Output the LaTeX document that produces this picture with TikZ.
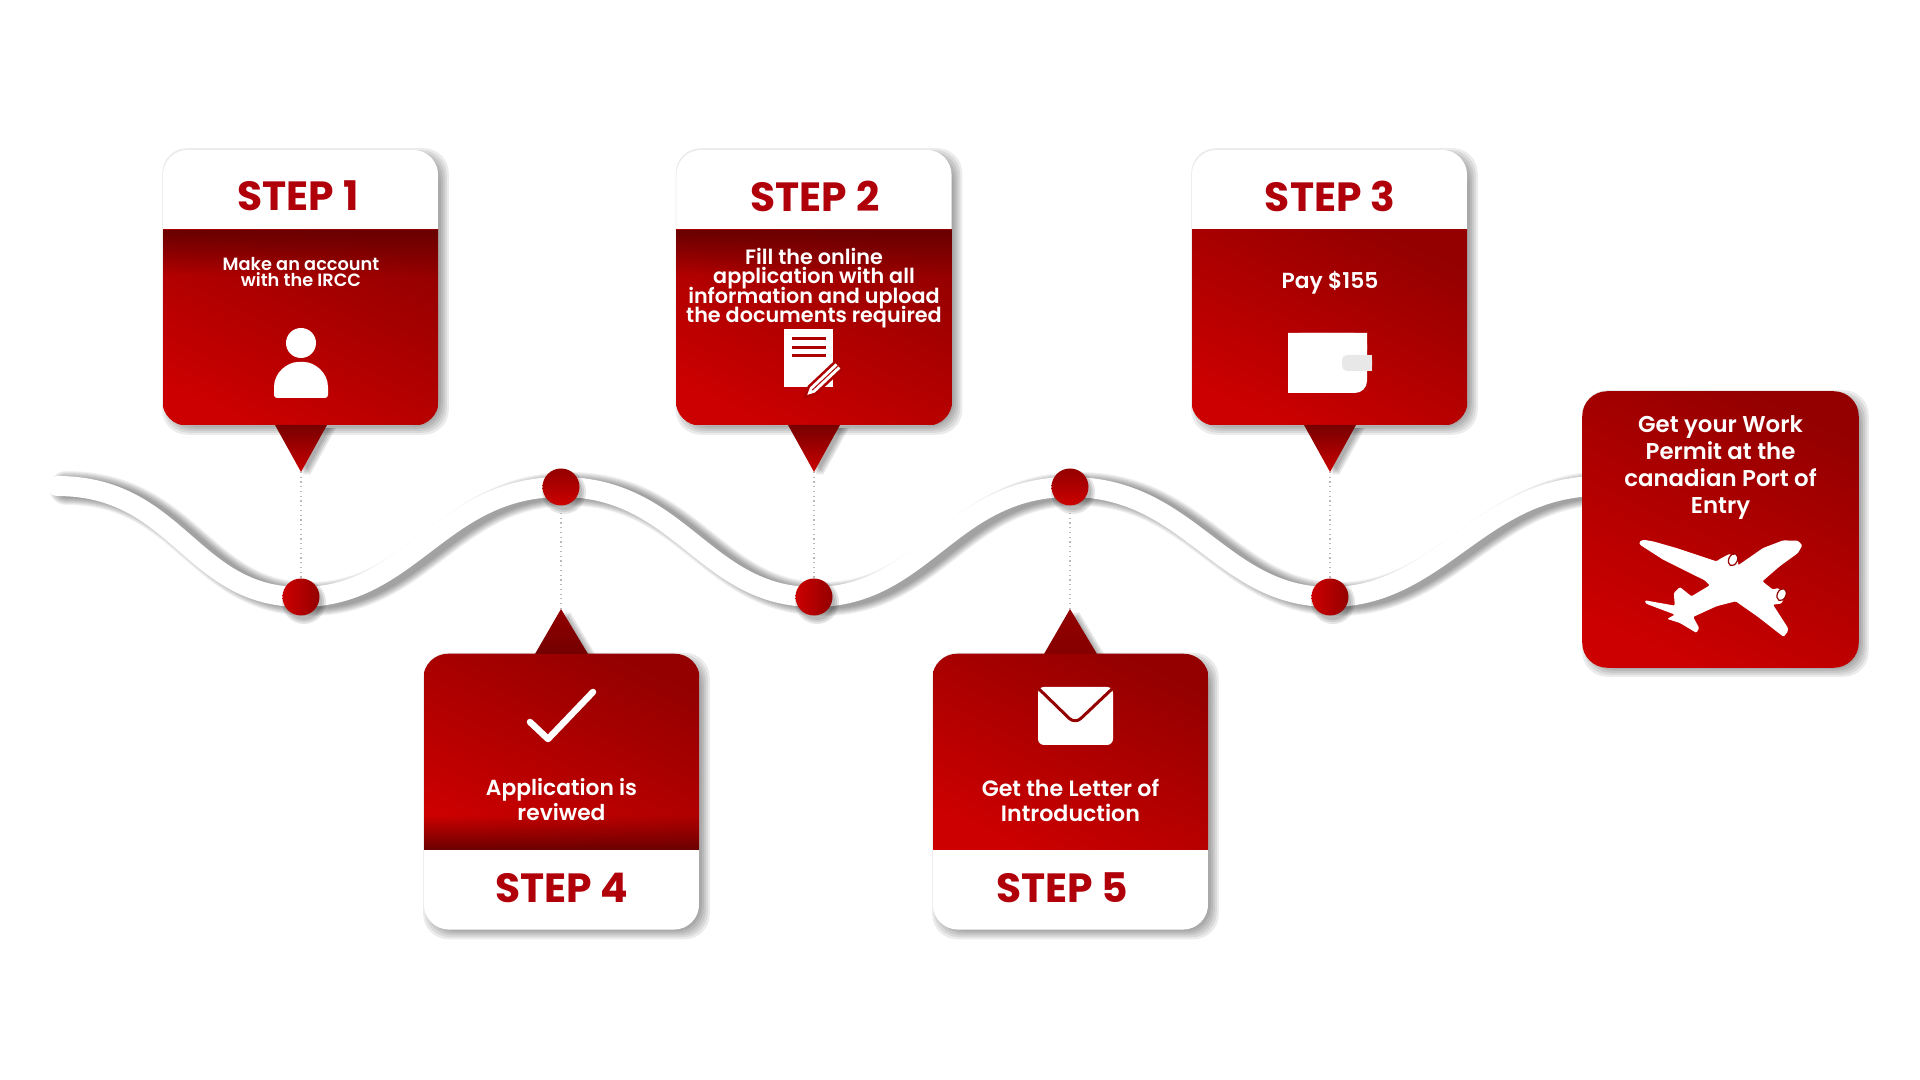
\documentclass[tikz,border=0pt]{standalone}
\usepackage{fontspec}
\setmainfont{Poppins}
\newfontfamily\medfont{Poppins SemiBold}
\usetikzlibrary{backgrounds,fadings}

\definecolor{brightred}{HTML}{CC0000}
\definecolor{darkred}{HTML}{940000}
\definecolor{deepred}{HTML}{6A0000}
\definecolor{steptext}{HTML}{B0000A}

\tikzfading[name=fadebelow, top color=transparent!0, bottom color=transparent!100]
\tikzfading[name=fadeabove, top color=transparent!100, bottom color=transparent!0]

\tikzset{
  card/.style={rectangle, fill=white, rounded corners=0.25cm, inner sep=0pt,
    minimum width=2.75cm, minimum height=2.75cm},
  dot/.style={circle, inner sep=0pt, minimum size=0.37cm},
  stephead/.style={font=\fontsize{11.6}{12}\selectfont\bfseries, text=steptext, inner sep=0pt},
  bodytext/.style n args={2}{font={\medfont\fontsize{#1}{#2}\selectfont\lineskiplimit=-20pt}, text=white, align=center, inner sep=0pt},
  leader/.style={densely dotted, line width=0.35pt, gray!55},
  cardface/.style={bottom color=brightred, top color=darkred, shading angle=-25},
}

\newcommand{\wavepath}{(wavestart)
  .. controls +(122,0) and +(-111,0) .. (dot1.center)
  .. controls +(110,0) and +(-120,0) .. (dot4.center)
  .. controls +(120,0) and +(-110,0) .. (dot2.center)
  .. controls +(110,0) and +(-120,0) .. (dot5.center)
  .. controls +(120,0) and +(-110,0) .. (dot3.center)
  .. controls +(110,0) and +(-120,0) .. (waveend)}

\begin{document}
\begin{tikzpicture}[x=0.01cm, y=-0.01cm]
  \useasboundingbox (0,0) rectangle (1920,1080);

  % cards
  \node[card] (card1) at (300.5,287.5) {};
  \node[card] (card2) at (814,287.5) {};
  \node[card] (card3) at (1329.5,287.5) {};
  \node[card] (card4) at (561.5,792) {};
  \node[card] (card5) at (1070.5,792) {};
  \node[card] (card6) at (1720.5,529.5) {};

  % pointers
  \coordinate (ptl1) at (275,425); \coordinate (ptr1) at (327,425); \coordinate (tip1) at (301,472);
  \coordinate (ptl2) at (788,425); \coordinate (ptr2) at (840,425); \coordinate (tip2) at (814,472);
  \coordinate (ptl3) at (1304,425); \coordinate (ptr3) at (1356,425); \coordinate (tip3) at (1330,472);
  \coordinate (ptl4) at (535,654); \coordinate (ptr4) at (588,654); \coordinate (tip4) at (561,609);
  \coordinate (ptl5) at (1044,654); \coordinate (ptr5) at (1097,654); \coordinate (tip5) at (1070,609);

  % dots on the wave
  \node[dot, left color=brightred, right color=darkred] (dot1) at (301,597) {};
  \node[dot, left color=brightred, right color=darkred] (dot2) at (814,597) {};
  \node[dot, left color=brightred, right color=darkred] (dot3) at (1330,597) {};
  \node[dot, top color=darkred, bottom color=brightred] (dot4) at (561,487) {};
  \node[dot, top color=darkred, bottom color=brightred] (dot5) at (1070,487) {};
  \coordinate (wavestart) at (57,486);
  \coordinate (waveend) at (1600,486);

  \begin{scope}[on background layer]
    \foreach \w in {34,32,...,20}
      \draw[transform canvas={xshift=0.09cm, yshift=-0.02cm}, black, opacity=0.055,
        line width=\w*0.01cm, line cap=round] \wavepath;
    \draw[white, line width=0.2cm, line cap=round] \wavepath;
    \foreach \d in {dot1,dot2,dot3,dot4,dot5}
      \foreach \r in {22,20,18}
        \fill[black, opacity=0.1] ([shift={(3,5)}]\d.center) circle (\r);
    \foreach \c in {card1,card2,card3,card4,card5,card6}
      \foreach \s in {-5,-3,...,5}
        \fill[black, opacity=0.08, rounded corners=0.25cm]
          ([shift={(5-\s,4-\s)}]\c.north west) rectangle ([shift={(5+\s,4+\s)}]\c.south east);
    \foreach \p in {1,...,5}
      \foreach \s in {3,5,7,9}
        \fill[black, opacity=0.09] ([xshift=\s*0.01cm, yshift=-0.03cm]ptl\p)
          -- ([xshift=\s*0.01cm, yshift=-0.03cm]ptr\p) -- ([xshift=\s*0.01cm, yshift=-0.03cm]tip\p) -- cycle;
  \end{scope}

  % red faces
  \begin{scope}
    \clip[rounded corners=0.25cm] (card1.north west) rectangle (card1.south east);
    \shade[cardface] (163,230) rectangle (438,425);
    \fill[deepred, path fading=fadebelow] (163,230) rectangle (438,275);
  \end{scope}
  \begin{scope}
    \clip[rounded corners=0.25cm] (card2.north west) rectangle (card2.south east);
    \shade[cardface] (676,230) rectangle (952,425);
    \fill[deepred, path fading=fadebelow] (676,230) rectangle (952,275);
  \end{scope}
  \begin{scope}
    \clip[rounded corners=0.25cm] (card3.north west) rectangle (card3.south east);
    \shade[cardface] (1192,230) rectangle (1467,425);
  \end{scope}
  \begin{scope}
    \clip[rounded corners=0.25cm] (card4.north west) rectangle (card4.south east);
    \shade[cardface] (424,654) rectangle (699,850);
    \fill[deepred, path fading=fadeabove] (424,815) rectangle (699,850);
  \end{scope}
  \begin{scope}
    \clip[rounded corners=0.25cm] (card5.north west) rectangle (card5.south east);
    \shade[cardface] (933,654) rectangle (1208,850);
  \end{scope}
  \shade[cardface, rounded corners=0.25cm] (card6.north west) rectangle (card6.south east);

  \foreach \p in {1,2,3}
    \shade[top color=deepred!70!darkred, bottom color=brightred] (ptl\p) -- (ptr\p) -- (tip\p) -- cycle;
  \shade[top color=darkred, bottom color=deepred!80!darkred] (ptl4) -- (ptr4) -- (tip4) -- cycle;
  \shade[top color=darkred, bottom color=darkred!90!black] (ptl5) -- (ptr5) -- (tip5) -- cycle;

  \draw[leader] (tip1) -- (dot1);
  \draw[leader] (tip2) -- (dot2);
  \draw[leader] (tip3) -- (dot3);
  \draw[leader] (tip4) -- (dot4);
  \draw[leader] (tip5) -- (dot5);

  % labels
  \node[stephead] (head1) at (298,196) {STEP 1};
  \node[stephead] (head2) at (815,196) {STEP 2};
  \node[stephead] (head3) at (1330,196) {STEP 3};
  \node[stephead] (head4) at (562,888) {STEP 4};
  \node[stephead] (head5) at (1062,888) {STEP 5};

  \node[bodytext={5.05}{4.8}] (text1) at (301,272) {Make an account\\with the IRCC};
  \node[bodytext={5.9}{5.5}] (text2) at (814,288) {Fill the online\\application with all\\information and upload\\the documents required};
  \node[bodytext={6.2}{7}] (text3) at (1330,283) {Pay \$155};
  \node[bodytext={6.2}{7.1}] (text4) at (561.5,800) {Application is\\reviwed};
  \node[bodytext={6.3}{7.1}] (text5) at (1070.5,800) {Get the Letter of\\Introduction};
  \node[bodytext={6.5}{7.6}] (text6) at (1720.5,467.5) {Get your Work\\Permit at the\\canadian Port of\\Entry};

  % person
  \fill[white] (301,343) circle (15);
  \fill[white, rounded corners=0.03cm] (274,398) -- (274,390) .. controls (274,372) and (288,362) .. (301,362)
    .. controls (314,362) and (328,372) .. (328,390) -- (328,398) -- cycle;

  % document and pencil
  \fill[white] (784,329) rectangle (833,387);
  \draw[brightred!85!black, line width=0.03cm] (792,339) -- (826,339) (792,348) -- (826,348) (792,356) -- (826,356);
  \draw[brightred!85!black, fill=white, line width=0.025cm, line join=round]
    (805,397) -- (808.9,386.5) -- (835.6,361.4) -- (842.4,368.6) -- (815.7,393.7) -- cycle;
  \draw[brightred!85!black, line width=0.01cm] (812.3,390.1) -- (839,365);

  % wallet
  \fill[white, rounded corners=0.12cm] (1288,333) -- (1367,333) -- (1367,393) -- (1288,393) -- cycle;
  \fill[white] (1288,333) rectangle (1310,393) (1288,333) rectangle (1367,350);
  \fill[gray!18, rounded corners=0.05cm] (1372,355) -- (1350,355) -- (1342,355) -- (1342,371) -- (1372,371) -- cycle;
  \fill[gray!18] (1355,355) rectangle (1372,371);

  % check mark
  \draw[white, line width=0.065cm, line cap=round, line join=round] (530,722) -- (548,739) -- (593,692);

  % envelope
  \fill[white, rounded corners=0.06cm] (1038,687) rectangle (1113,745);
  \draw[darkred, line width=0.03cm, line join=round, rounded corners=0.08cm] (1039,689) -- (1075,724) -- (1112,689);

  % plane
  \begin{scope}[shift={(1560,380)}, x=0.00333cm, y=-0.00333cm]
    \fill[white, rounded corners=0.012cm] (238,487) -- (250,480) -- (280,485) -- (350,505) -- (470,545) -- (480,538) -- (510,522) -- (535,545) -- (535,557)
      -- (610,505) -- (670,482) -- (715,483) -- (728,497) -- (715,520) -- (660,560) -- (608,605) -- (640,630) -- (655,625) -- (680,645)
      -- (665,672) -- (640,675) -- (685,745) -- (685,755) -- (672,772) -- (595,712) -- (528,665) -- (470,680) -- (400,712)
      -- (418,745) -- (410,760) -- (360,730) -- (322,718) -- (345,705) -- (258,672) -- (255,662) -- (345,678)
      -- (342,640) -- (360,622) -- (395,650) -- (450,617) -- (435,602) -- (380,575) -- (310,540) -- (240,495) -- cycle;
    \draw[darkred, fill=white, line width=0.012cm, rotate around={-25:(520,540)}] (520,540) ellipse (13 and 19);
    \draw[darkred, fill=white, line width=0.012cm, rotate around={-25:(666,645)}] (666,645) ellipse (13 and 19);
  \end{scope}
\end{tikzpicture}
\end{document}
